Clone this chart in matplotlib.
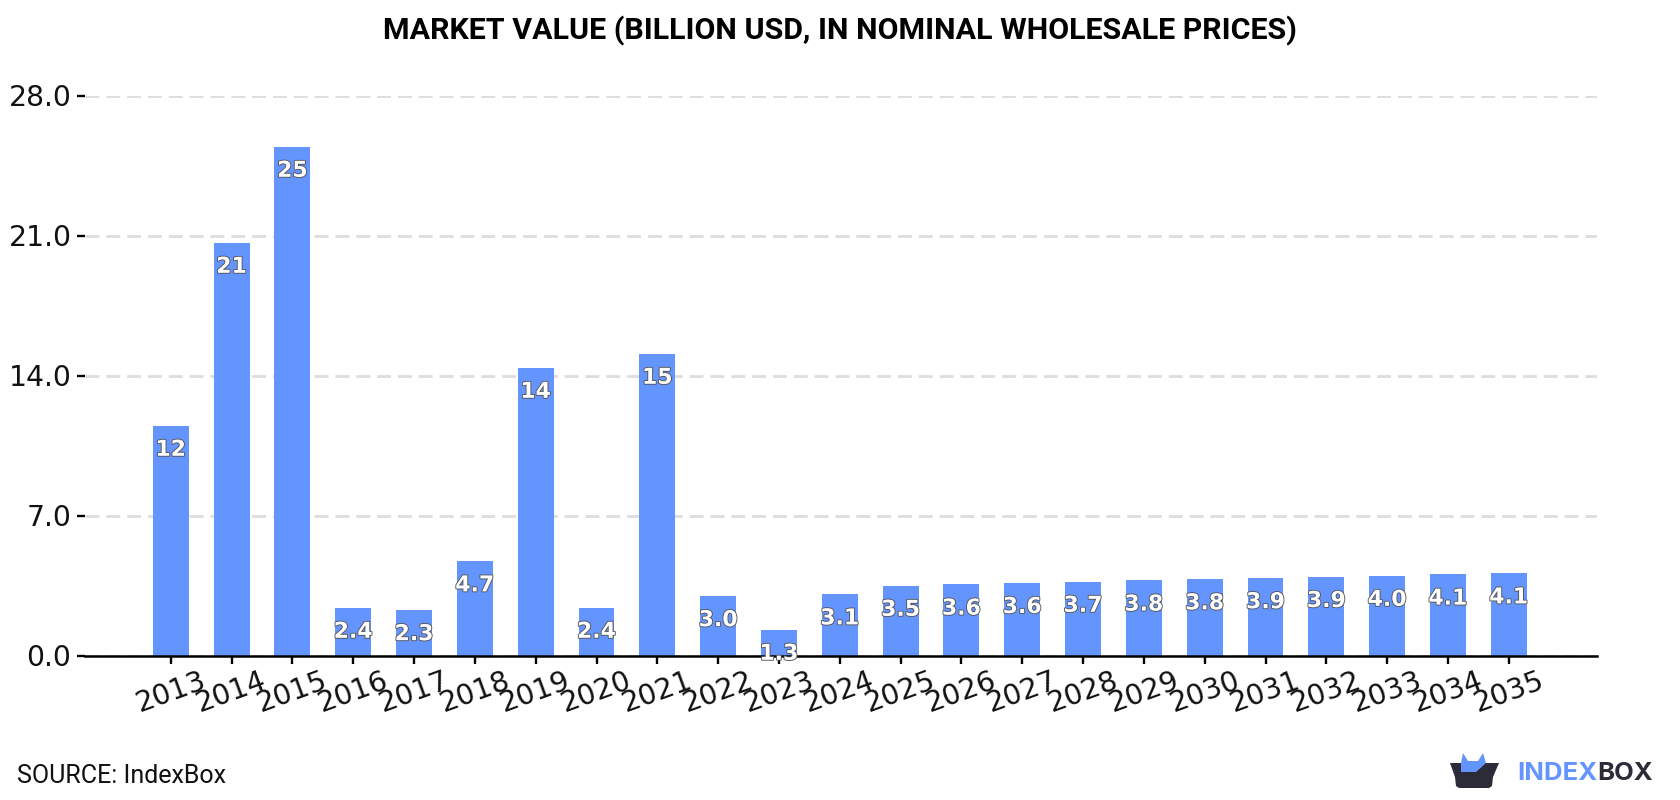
import matplotlib
matplotlib.use('Agg')
import matplotlib.pyplot as plt
import matplotlib.patheffects as pe
from matplotlib.patches import Polygon

years = [2013, 2014, 2015, 2016, 2017, 2018, 2019, 2020, 2021, 2022, 2023, 2024,
         2025, 2026, 2027, 2028, 2029, 2030, 2031, 2032, 2033, 2034, 2035]
values = [11.5, 20.65, 25.45, 2.4, 2.28, 4.72, 14.4, 2.4, 15.1, 2.98, 1.3, 3.07,
          3.5, 3.56, 3.64, 3.7, 3.76, 3.82, 3.88, 3.94, 4.0, 4.06, 4.12]
y_ticks = [0.0, 7.0, 14.0, 21.0, 28.0]

BLUE = '#6495ff'
DARK = '#2b2c38'
W, H = 1680, 800

fig = plt.figure(figsize=(16.8, 8), dpi=100)
ax = fig.add_axes([85 / W, 1 - 655.5 / H, (1597 - 85) / W, (655.5 - 95.5) / H])

ax.bar(years, values, width=0.59, color=BLUE, zorder=2)
ax.set_xlim(2011.59, 2036.45)
ax.set_ylim(0, 28)

ax.set_yticks(y_ticks)
ax.set_yticklabels(['%.1f' % t for t in y_ticks], fontsize=20.3, color='#111111')
ax.set_xticks(years)
ax.set_xticklabels(years, fontsize=20.5, rotation=20, color='#111111')
ax.tick_params(axis='y', length=5.8, width=1.7, pad=4)
ax.tick_params(axis='x', length=5.8, width=1.7, pad=2)
ax.grid(axis='y', color='#dddddd', linestyle=(0, (5, 2.5)), linewidth=2, zorder=0)

for side in ['top', 'right', 'left']:
    ax.spines[side].set_visible(False)
ax.spines['bottom'].set_linewidth(1.8)
ax.spines['bottom'].set_zorder(3)

# value labels sit a fixed distance under the top of each bar
for x, v in zip(years, values):
    label = '%.0f' % v if v >= 10 else '%.1f' % v
    ax.annotate(label, (x, v), xytext=(0, -17.5), textcoords='offset points',
                ha='center', va='center', fontsize=15.8, fontweight='bold',
                color='white', zorder=5, annotation_clip=False,
                path_effects=[pe.withStroke(linewidth=1.3, foreground='#555555')])

fig.text(0.5, 1 - 31 / H, 'MARKET VALUE (BILLION USD, IN NOMINAL WHOLESALE PRICES)',
         ha='center', va='center', family='Roboto', fontweight='bold', fontsize=21.9,
         color='black')
fig.text(17 / W, 1 - 776 / H, 'SOURCE: IndexBox', ha='left', va='center',
         family='Roboto', fontsize=18, color='#111111')

# logo, drawn on a full-figure layer in pixel units
logo = fig.add_axes([0, 0, 1, 1], facecolor='none')
logo.set_xlim(0, W)
logo.set_ylim(H, 0)
logo.axis('off')
logo.add_patch(Polygon([(1450, 763), (1499, 763), (1493, 777), (1492, 786), (1489, 788),
                        (1459, 788), (1456, 786), (1455, 777)], color=DARK, lw=0))
logo.add_patch(Polygon([(1461, 763), (1463, 753), (1468, 761), (1478, 761), (1483, 753),
                        (1486, 763), (1476, 772), (1461, 772)], color=BLUE, lw=0))
logo.text(1517, 774, 'INDEX', color=BLUE, family='Inter', fontweight='bold', fontsize=18.5,
          va='center', ha='left')
logo.text(1597, 774, 'BOX', color=DARK, family='Inter', fontweight='bold', fontsize=18.5,
          va='center', ha='left')

fig.savefig('out.png', dpi=100)
